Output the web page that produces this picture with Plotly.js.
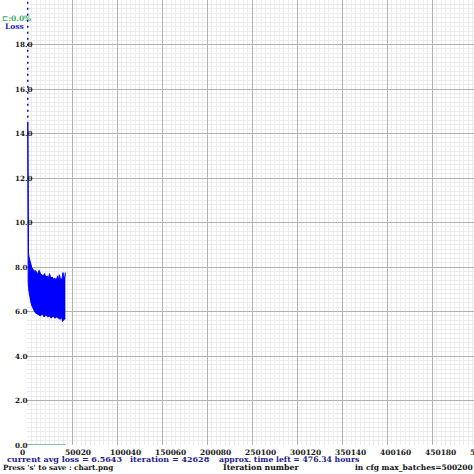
<!DOCTYPE html>
<html>
<head>
<meta charset="utf-8">
<script src="https://cdn.plot.ly/plotly-3.0.1.min.js"></script>
<style>
html,body{margin:0;padding:0;overflow:hidden;background:#fff;width:474px;height:474px;}
#chart{width:478px;height:474px;}
</style>
</head>
<body>
<div id="chart"></div>
<script>
// ---- data ----
var xTickVals = [0, 50020, 100040, 150060, 200080, 250100, 300120, 350140, 400160, 450180, 500200];
var xTickText = ["0", "50020", "100040", "150060", "200080", "250100", "300120", "350140", "400160", "450180", "500200"];
var yTickVals = [0, 2, 4, 6, 8, 10, 12, 14, 16, 18];
var yTickText = ["0.0", "2.0", "4.0", "6.0", "8.0", "10.0", "12.0", "14.0", "16.0", "18.0"];

// early loss (sparse, dotted look)
var earlyIter = [700, 800, 900];
var earlyLoss = [21, 17.5, 14.5];

// lower envelope of the loss band
var lowIter = [900, 1000, 1100, 1300, 2200, 3300, 4400, 5500, 6700, 8000, 9000, 11000, 13000, 15000, 17000, 19000, 21000, 23000, 25000, 27000, 29000, 31000, 33000, 35000, 37000, 38500, 39500, 40500, 41500, 42628];
var lowLoss = [14.5, 11, 8.5, 7.3, 6.9, 6.6, 6.4, 6.25, 6.15, 6.05, 5.95, 5.9, 5.85, 5.8, 5.9, 5.75, 5.85, 5.75, 5.8, 5.7, 5.8, 5.7, 5.75, 5.7, 5.65, 5.75, 5.55, 5.6, 5.65, 5.7];

// upper envelope of the loss band
var highIter = [900, 1000, 1200, 1700, 2500, 3300, 4400, 5500, 6700, 8000, 9000, 10500, 12000, 13500, 15000, 16500, 18000, 19500, 21000, 22500, 24000, 25000, 26500, 28000, 29500, 31000, 32500, 34000, 35000, 36000, 37500, 39000, 40000, 41000, 42000, 42628];
var highLoss = [14.5, 11.5, 9.6, 8.6, 8.4, 8.25, 8.1, 7.95, 7.9, 7.8, 7.85, 7.75, 7.7, 7.85, 7.7, 7.65, 7.6, 7.7, 7.55, 7.6, 7.5, 7.7, 7.5, 7.55, 7.45, 7.5, 7.4, 7.6, 7.4, 7.65, 7.4, 7.5, 7.75, 7.45, 7.55, 7.75];

// mAP line
var mapIter = [0, 42628];
var mapVal = [0, 0];

var avgLoss = "6.5643";
var curIter = "42628";
var timeLeft = "476.34";
var maxBatches = "500200";
var mapPct = "0.0";

// ---- geometry helpers (paper coordinates) ----
var L = 27, PW = 450, PH = 445;
function px(x){ return (x - L) / PW; }
function py(y){ return (PH - y) / PH; }

var FONT = "DejaVu Serif";
var traces = [
  {x: mapIter, y: mapVal, mode: 'lines', line: {color: '#7cc09a', width: 2}, hoverinfo: 'skip'},
  {x: earlyIter, y: earlyLoss, mode: 'lines', line: {color: '#0000ff', width: 1.5, dash: '2px,4px'}, hoverinfo: 'skip'},
  {x: lowIter, y: lowLoss, mode: 'lines', line: {color: '#0000ff', width: 1}, hoverinfo: 'skip'},
  {x: highIter, y: highLoss, mode: 'lines', fill: 'tonexty', fillcolor: '#0000ff', line: {color: '#0000ff', width: 1}, hoverinfo: 'skip'}
];

var ann = [];
for (var i = 0; i < xTickVals.length; i++) {
  ann.push({x: xTickVals[i], xref: 'x', y: 0, yref: 'y', text: xTickText[i], showarrow: false,
    xanchor: 'left', yanchor: 'middle', xshift: -9, yshift: -7,
    font: {family: FONT, size: 7.5, color: '#1a1a1a', weight: 'bold'}});
}
for (var j = 0; j < yTickVals.length; j++) {
  ann.push({x: px(13), xref: 'paper', y: yTickVals[j], yref: 'y', text: yTickText[j], showarrow: false,
    xanchor: 'left', yanchor: 'middle',
    font: {family: FONT, size: 7.2, color: '#1a1a1a', weight: 'bold'}});
}
function txt(t, x, y, color, size, bold){
  ann.push({x: px(x), xref: 'paper', y: py(y), yref: 'paper', text: t, showarrow: false,
    xanchor: 'left', yanchor: 'middle',
    font: {family: FONT, size: size, color: color, weight: bold ? 'bold' : 'normal'}});
}
txt("⊏:" + mapPct + "%", 0, 18, '#3cae6a', 7.5, true);
txt("Loss", 3, 26, '#2626c0', 7.5, true);
txt("current avg loss = " + avgLoss, 5, 459.5, '#1c1c8c', 8, true);
txt("iteration = " + curIter, 128, 459.5, '#1c1c8c', 8, true);
txt("approx. time left = " + timeLeft + " hours", 217, 459.5, '#1c1c8c', 7.7, true);
txt("Press 's' to save : chart.png", 1, 467, '#111', 7.2, true);
txt("Iteration number", 221, 467.5, '#111', 7.8, true);
txt("in cfg max_batches=" + maxBatches, 353, 467.5, '#111', 7.5, true);

var layout = {
  width: 478, height: 474,
  margin: {l: L, r: 1, t: 0, b: 29, pad: 0},
  paper_bgcolor: '#fff', plot_bgcolor: '#fff',
  showlegend: false,
  xaxis: {range: [0, 500200], tick0: 0, dtick: 50020, showticklabels: false, ticks: '',
    showgrid: true, gridcolor: '#b2b2b2', gridwidth: 1, zeroline: false, showline: false,
    minor: {tick0: 0, dtick: 5002, showgrid: true, gridcolor: '#ececec', gridwidth: 1}},
  yaxis: {range: [0, 20], tick0: 0, dtick: 2, showticklabels: false, ticks: '',
    showgrid: true, gridcolor: '#b2b2b2', gridwidth: 1, zeroline: false, showline: false,
    minor: {tick0: 0, dtick: 0.2, showgrid: true, gridcolor: '#ececec', gridwidth: 1}},
  annotations: ann
};
Plotly.newPlot('chart', traces, layout, {staticPlot: true, displayModeBar: false});
</script>
</body>
</html>
